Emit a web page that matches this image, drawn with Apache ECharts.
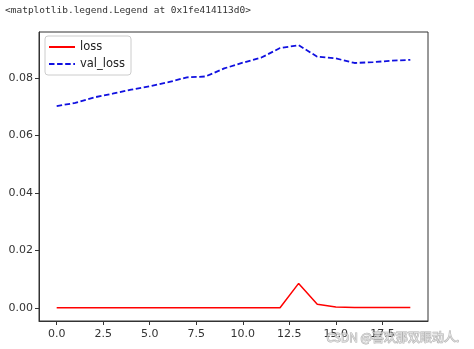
<!DOCTYPE html>
<html>
<head>
<meta charset="utf-8">
<script src="https://cdn.jsdelivr.net/npm/echarts@6/dist/echarts.min.js"></script>
<style>
  html, body { margin: 0; padding: 0; background: #fff; }
  #chart { width: 474px; height: 349px; }
</style>
</head>
<body>
<div id="chart"></div>
<script>
const epochs = [0, 1, 2, 3, 4, 5, 6, 7, 8, 9, 10, 11, 12, 13, 14, 15, 16, 17, 18, 19]
const loss = [0, 0, 0, 0, 0, 0, 0, 0, 0, 0, 0, 0, 0, 0.0085, 0.0012, 0.0003, 0.0001, 0.0001, 0.0001, 0.0001]
const valLoss = [0.0703, 0.0714, 0.0733, 0.0746, 0.0760, 0.0772, 0.0786, 0.0803, 0.0806, 0.0834,
    0.0854, 0.0872, 0.0905, 0.0915, 0.0875, 0.0869, 0.0853, 0.0856, 0.0861, 0.0864]
const xTicks = [0, 2.5, 5, 7.5, 10, 12.5, 15, 17.5]
const yTicks = [0, 0.02, 0.04, 0.06, 0.08]

const chart = echarts.init(document.getElementById('chart'))

const tickFont = { color: '#333', fontSize: 11, fontFamily: 'DejaVu Sans' }

chart.setOption({
    animation: false,
    graphic: [
        {
            type: 'text', left: 5, top: 6,
            style: { text: '<matplotlib.legend.Legend at 0x1fe414113d0>', fill: '#333', font: '9.5px "DejaVu Sans Mono"' }
        },
        {
            // watermark
            type: 'text', left: 326, top: 331, z: 100,
            style: {
                text: 'CSDN @喜欢那双眼动人.', fill: 'rgba(255,255,255,0.6)',
                stroke: 'rgba(120,120,120,0.6)', lineWidth: 1,
                font: '12px "Noto Sans CJK SC"'
            }
        }
    ],
    grid: {
        left: 39, right: 46, top: 32, bottom: 28,
        show: true, borderColor: '#333', borderWidth: 1
    },
    legend: {
        orient: 'vertical',
        left: 45, top: 36,
        padding: [5, 6, 5, 3],
        itemGap: 5,
        itemWidth: 26, itemHeight: 10,
        borderColor: '#ccc', borderWidth: 1, borderRadius: 3,
        itemStyle: { opacity: 0 },
        textStyle: { color: '#222', fontSize: 11.5, fontFamily: 'DejaVu Sans' },
        data: ['loss', 'val_loss']
    },
    xAxis: {
        type: 'value',
        min: -0.95, max: 19.95,
        splitLine: { show: false },
        axisLine: { show: true, onZero: false, lineStyle: { color: '#333' } },
        axisTick: { show: true, length: 4, customValues: xTicks, lineStyle: { color: '#333' } },
        axisLabel: { customValues: xTicks, margin: 8, formatter: v => v.toFixed(1), ...tickFont }
    },
    yAxis: {
        type: 'value',
        min: -0.0046, max: 0.0961,
        splitLine: { show: false },
        axisLine: { show: true, onZero: false, lineStyle: { color: '#333' } },
        axisTick: { show: true, length: 4, customValues: yTicks, lineStyle: { color: '#333' } },
        axisLabel: { customValues: yTicks, margin: 6, formatter: v => v.toFixed(2), ...tickFont }
    },
    series: [
        {
            name: 'loss',
            type: 'line',
            symbol: 'none',
            data: epochs.map((e, i) => [e, loss[i]]),
            lineStyle: { color: '#ff0000', width: 1.5 },
            itemStyle: { color: '#ff0000' }
        },
        {
            name: 'val_loss',
            type: 'line',
            symbol: 'none',
            data: epochs.map((e, i) => [e, valLoss[i]]),
            lineStyle: { color: '#1010e0', width: 1.8, type: [5.5, 2.6] },
            itemStyle: { color: '#1010e0' }
        }
    ]
})
</script>
</body>
</html>
